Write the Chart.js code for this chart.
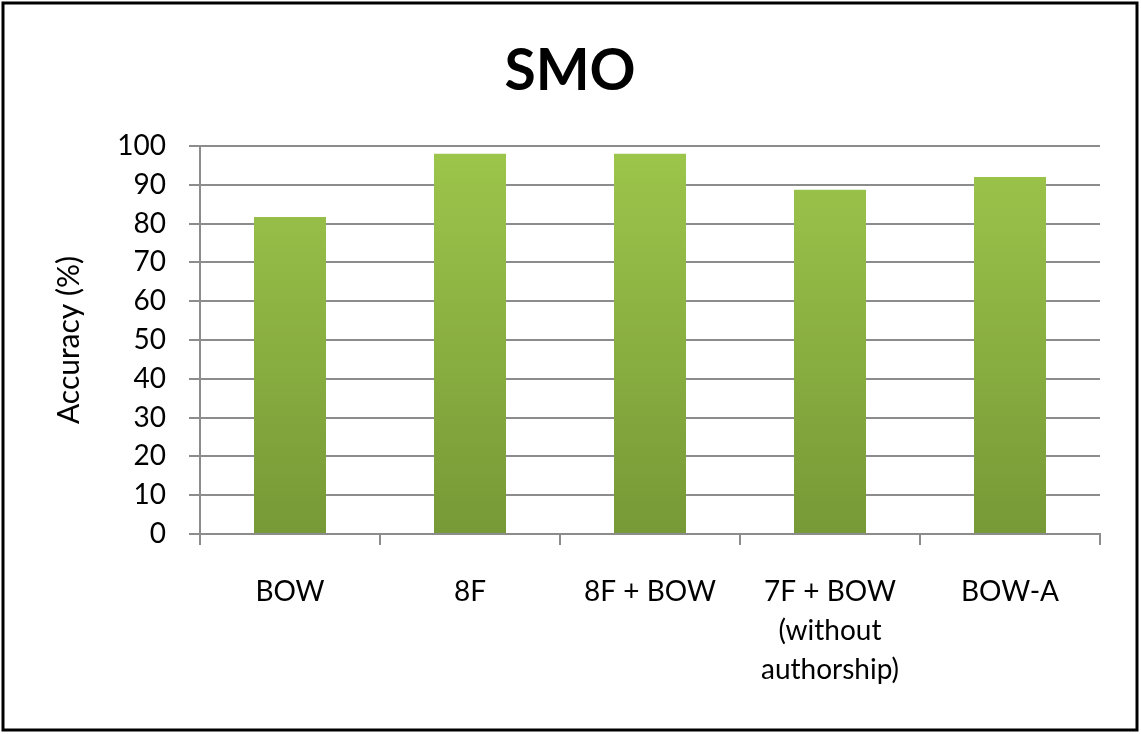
<!DOCTYPE html>
<html>
<head>
<meta charset="utf-8">
<script src="https://cdn.jsdelivr.net/npm/chart.js@4.4.0/dist/chart.umd.min.js"></script>
<style>
  html, body { margin: 0; padding: 0; background: #fff; }
  #wrap { position: relative; width: 1141px; height: 734px; }
</style>
</head>
<body>
<div id="wrap"><canvas id="c" width="1141" height="734"></canvas></div>
<script>
const categories = ["BOW", "8F", "8F + BOW", ["7F + BOW", "(without", "authorship)"], "BOW-A"];
const accuracy = [81.7, 98.0, 98.0, 88.7, 92.0];
const yTicks = [0, 10, 20, 30, 40, 50, 60, 70, 80, 90, 100];
const chartTitle = "SMO";
const yTitle = "Accuracy (%)";

const gridColor = "#8c8c8c";
const FONT = "Lato, 'Open Sans', sans-serif";

const borderPlugin = {
  id: 'frame',
  beforeDraw(chart) {
    const ctx = chart.ctx;
    ctx.save();
    ctx.fillStyle = '#fff';
    ctx.fillRect(0, 0, chart.width, chart.height);
    ctx.restore();
  },
  afterDraw(chart) {
    const ctx = chart.ctx;
    ctx.save();
    ctx.strokeStyle = '#000';
    ctx.lineWidth = 3;
    ctx.strokeRect(3, 3, chart.width - 7, chart.height - 7);
    ctx.restore();
  }
};

function barGradient(context) {
  const chart = context.chart;
  const area = chart.chartArea;
  if (!area) return '#8cb043';
  const y = chart.scales.y;
  const g = chart.ctx.createLinearGradient(0, y.getPixelForValue(100), 0, y.getPixelForValue(0));
  g.addColorStop(0, '#9dc64b');
  g.addColorStop(1, '#779937');
  return g;
}

new Chart(document.getElementById('c'), {
  type: 'bar',
  data: {
    labels: categories,
    datasets: [{
      data: accuracy,
      backgroundColor: barGradient,
      borderWidth: 0,
      categoryPercentage: 1.0,
      barPercentage: 0.4
    }]
  },
  options: {
    responsive: false,
    animation: false,
    devicePixelRatio: 1,
    layout: { padding: { left: 40, right: 41, top: 0, bottom: 0 } },
    plugins: {
      legend: { display: false },
      tooltip: { enabled: false },
      title: {
        display: true,
        text: chartTitle,
        color: '#000',
        font: { family: FONT, size: 57, weight: 'bold', lineHeight: 1.2 },
        padding: { top: 37, bottom: 40.6 }
      }
    },
    scales: {
      x: {
        offset: true,
        grid: {
          offset: true,
          drawOnChartArea: false,
          drawTicks: true,
          tickLength: 11,
          color: gridColor,
          lineWidth: 2
        },
        border: { display: true, color: gridColor, width: 2 },
        ticks: {
          color: '#000',
          font: { family: FONT, size: 28, lineHeight: 1.38 },
          padding: 28,
          maxRotation: 0,
          autoSkip: false
        },
        afterFit(scale) { scale.height = 200; }
      },
      y: {
        min: 0,
        max: 100,
        afterBuildTicks(scale) { scale.ticks = yTicks.map(v => ({ value: v })); },
        grid: {
          drawTicks: true,
          tickLength: 11,
          color: gridColor,
          lineWidth: 2
        },
        border: { display: true, color: gridColor, width: 2 },
        ticks: {
          color: '#000',
          font: { family: FONT, size: 28 },
          padding: 23
        },
        title: {
          display: true,
          text: yTitle,
          color: '#000',
          font: { family: FONT, size: 30, lineHeight: 1.2 },
          padding: { top: 11, bottom: 0 }
        },
        afterFit(scale) { scale.width = 160; }
      }
    }
  },
  plugins: [borderPlugin]
});
</script>
</body>
</html>
